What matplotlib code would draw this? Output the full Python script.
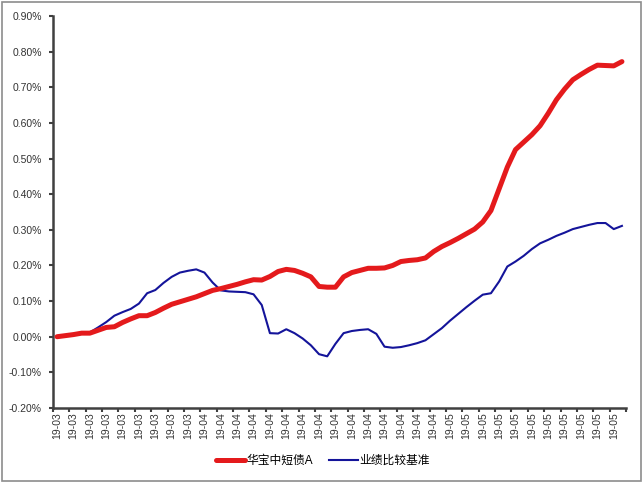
import numpy as np
import matplotlib
matplotlib.use('Agg')
import matplotlib.pyplot as plt
from matplotlib.patches import Rectangle

plt.rcParams['font.family'] = ['Liberation Sans', 'Noto Sans CJK SC', 'DejaVu Sans']

# daily cumulative return (%)
fund = [0.000, 0.003, 0.006, 0.010, 0.010, 0.018, 0.026, 0.028, 0.040, 0.050,
        0.059, 0.059, 0.068, 0.080, 0.091, 0.098, 0.105, 0.112, 0.121, 0.130,
        0.135, 0.141, 0.147, 0.154, 0.160, 0.159, 0.169, 0.183, 0.189, 0.186,
        0.178, 0.168, 0.141, 0.139, 0.139, 0.168, 0.180, 0.186, 0.192, 0.192,
        0.193, 0.200, 0.211, 0.214, 0.216, 0.221, 0.239, 0.253, 0.264, 0.276,
        0.289, 0.302, 0.322, 0.354, 0.415, 0.476, 0.525, 0.546, 0.567, 0.592,
        0.627, 0.665, 0.695, 0.721, 0.736, 0.750, 0.762, 0.761, 0.760, 0.772]
bench = [0.000, 0.003, 0.006, 0.010, 0.012, 0.026, 0.041, 0.059, 0.069, 0.078,
         0.093, 0.122, 0.131, 0.151, 0.168, 0.180, 0.185, 0.189, 0.180, 0.152,
         0.130, 0.127, 0.126, 0.125, 0.119, 0.089, 0.010, 0.009, 0.021, 0.010,
         -0.005, -0.024, -0.049, -0.055, -0.020, 0.010, 0.016, 0.019, 0.021, 0.008,
         -0.028, -0.031, -0.029, -0.024, -0.018, -0.010, 0.007, 0.024, 0.045, 0.064,
         0.083, 0.101, 0.118, 0.122, 0.155, 0.197, 0.211, 0.227, 0.246, 0.262,
         0.272, 0.283, 0.292, 0.302, 0.308, 0.314, 0.319, 0.319, 0.302, 0.311]
tick_labels = ['19-03'] * 9 + ['19-04'] * 15 + ['19-05'] * 11
yticks = [-0.2, -0.1, 0.0, 0.1, 0.2, 0.3, 0.4, 0.5, 0.6, 0.7, 0.8, 0.9]

x = np.arange(len(fund))

fig = plt.figure(figsize=(6.43, 4.83), dpi=100)
ax = fig.add_axes([0.0824, 0.1553, 0.8912, 0.8116])

ax.plot(x, bench, color='#14149a', lw=1.5, label='业绩比较基准', zorder=2)
ax.plot(x, fund, color='#e41a1c', lw=3.6, label='华宝中短债A', zorder=3,
        solid_capstyle='round')

ax.set_xlim(-0.5, len(fund) - 0.5)
ax.set_ylim(-0.2, 0.9)
ax.set_yticks(yticks)
ax.set_yticklabels(['%.2f%%' % v for v in yticks])

ax.set_xticks(np.arange(0, len(fund), 2))
ax.set_xticklabels(tick_labels, rotation=90)
ax.set_xticks(np.arange(-0.5, len(fund), 2), minor=True)

for s in ['top', 'right']:
    ax.spines[s].set_visible(False)
for s in ['left', 'bottom']:
    ax.spines[s].set_color('#404040')
    ax.spines[s].set_linewidth(1.8)

ax.tick_params(axis='y', length=3, width=1.5, color='#404040', pad=5,
               labelsize=7.5, labelcolor='#333333')
ax.tick_params(axis='x', which='major', length=0, pad=3,
               labelsize=7.5, labelcolor='#333333')
ax.tick_params(axis='x', which='minor', length=3, width=1.5, color='#404040')

h, l = ax.get_legend_handles_labels()
fig.legend(h[::-1], l[::-1], loc='center', bbox_to_anchor=(0.502, 0.046),
           ncol=2, frameon=False, fontsize=8.5, handlelength=2.5,
           handletextpad=0.1, columnspacing=1.3)

fig.patches.append(Rectangle((0.003, 0.004), 0.994, 0.992, transform=fig.transFigure,
                             fill=False, edgecolor='#8c8c8c', lw=1.2))

fig.savefig('out.png', dpi=100)
